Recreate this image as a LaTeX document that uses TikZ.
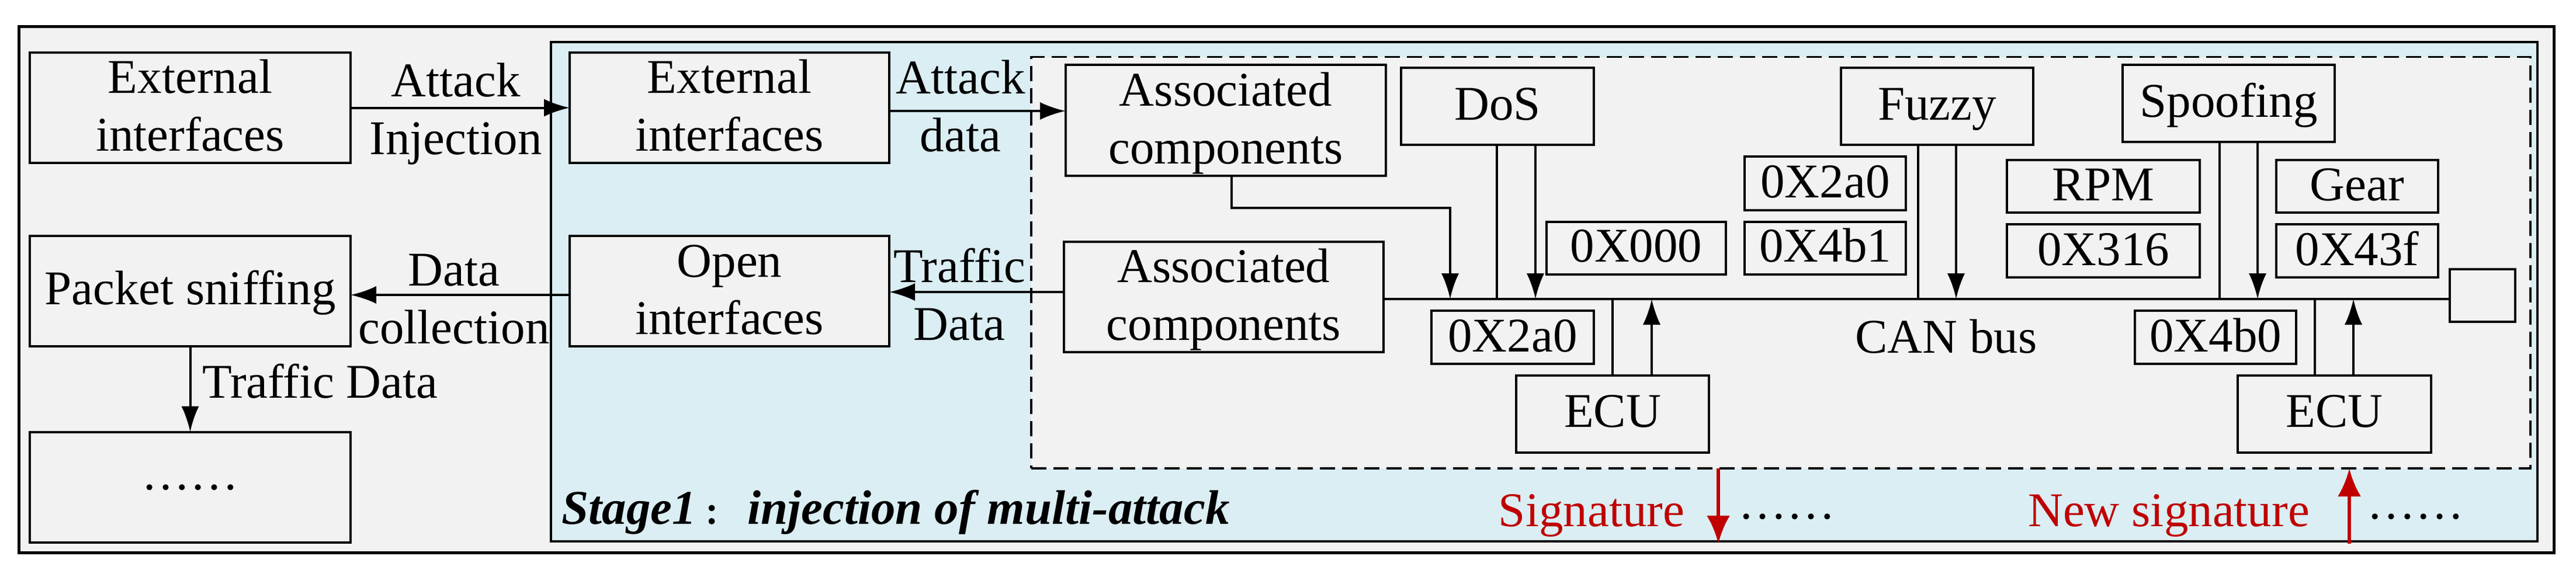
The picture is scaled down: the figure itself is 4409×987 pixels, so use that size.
\documentclass[tikz,border=0pt]{standalone}
\usepackage{fontspec}
\setmainfont{Liberation Serif}
\newfontfamily\cjkcolon[FakeBold=1.5]{Noto Sans CJK SC}
\usetikzlibrary{arrows.meta}
\definecolor{panelgray}{HTML}{F2F2F2}
\definecolor{stageblue}{HTML}{DAEEF3}
\definecolor{sigred}{HTML}{C00000}
\tikzset{
  every node/.style={font=\fontsize{20.75}{24.6}\selectfont, inner sep=0pt, outer sep=0pt, align=center},
  sized/.style 2 args={minimum width={#1*0.25pt}, minimum height={#2*0.25pt}},
  bl/.style={text depth=1pt, text height={1pt+2*(#1)*0.25pt}},
  boxx/.style 2 args={draw=black, fill=panelgray, line width=1pt, sized={#1}{#2}},
  panel/.style 2 args={draw=black, sized={#1}{#2}},
  lbl/.style={anchor=base},
  conn/.style={draw=black, line width=1pt},
  arr/.style={conn, -{Latex[length=11pt,width=7.6pt]}},
  redarr/.style={draw=sigred, line width=1.6pt, -{Latex[length=12pt,width=10pt]}},
}
\begin{document}
\begin{tikzpicture}[x=0.25pt,y=-0.25pt]
\useasboundingbox (0,0) rectangle (4409,987);
% panels
\node[panel={4338.5}{901}, fill=panelgray, line width=1.25pt] (outer) at (2201.75,495.5) {};
\node[panel={3400}{855}, fill=stageblue, line width=1.1pt] (stage) at (2643,499.5) {};
\node[panel={2566}{704.5}, fill=panelgray, line width=0.8pt, dash pattern=on 6.5pt off 3pt] (dash) at (3048,449.75) {};
% left column
\node[boxx={549}{189}, bl=73.5] (extL) at (325.5,184.5) {External\\interfaces};
\node[boxx={549}{189.5}, bl=23] (sniff) at (325.5,498.25) {Packet sniffing};
\node[boxx={549}{189.5}, bl=4] (more) at (325.5,834.25) {……};
% stage column
\node[boxx={547}{189}, bl=73.5] (extM) at (1248.5,184.5) {External\\interfaces};
\node[boxx={547}{189.5}, bl=74.7] (openI) at (1248.5,498.25) {Open\\interfaces};
% associated
\node[boxx={548}{190}, bl=74] (assocA) at (2098,206) {Associated\\components};
\node[boxx={547.4}{189.5}, bl=74] (assocB) at (2094.3,508.25) {Associated\\components};
% attacks
\node[boxx={330}{132}, bl=23] (dos) at (2563,182) {DoS};
\node[boxx={329}{132}, bl=23] (fuzzy) at (3315.5,182) {Fuzzy};
\node[boxx={363}{132}, bl=23] (spoof) at (3814.5,177) {Spoofing};
% id boxes
\node[boxx={307}{90.5}, bl=24] (idzero) at (2800.5,424.75) {0X000};
\node[boxx={278}{91}, bl=24.5] (idlow) at (2589,577.5) {0X2a0};
\node[boxx={276}{92}, bl=24.5] (idup) at (3124,314) {0X2a0};
\node[boxx={276}{90.5}, bl=24] (idfb) at (3124,424.75) {0X4b1};
\node[boxx={330}{90}, bl=24] (rpm) at (3600,319) {RPM};
\node[boxx={330}{91}, bl=24.5] (idrpm) at (3600,429.5) {0X316};
\node[boxx={277}{90}, bl=24] (gear) at (4034.5,319) {Gear};
\node[boxx={277}{91}, bl=24.5] (idgear) at (4034.5,429.5) {0X43f};
\node[boxx={276}{91}, bl=24.5] (idfz) at (3792,577.5) {0X4b0};
% ECUs and terminator
\node[boxx={330}{132.5}, bl=23] (ecuA) at (2760,708.75) {ECU};
\node[boxx={330.6}{132.5}, bl=23] (ecuB) at (3995.3,708.75) {ECU};
\node[boxx={112}{90}] (term) at (4249,506) {};
% bus
\coordinate (busL) at (assocB.east |- 0,512);
\coordinate (busR) at (term.west |- 0,512);
\draw[conn] (busL) -- (busR);
% connectors
\draw[arr] (extL.east) -- (extM.west);
\draw[arr] (extM.east |- 0,190) -- (assocA.west |- 0,190);
\draw[arr] (openI.west |- 0,505) -- (sniff.east |- 0,505);
\draw[arr] (assocB.west |- 0,500) -- (openI.east |- 0,500);
\draw[arr] (sniff.south) -- (more.north);
\draw[arr] (2108,0 |- assocA.south) -- (2108,356) -- (2482,356) -- (2482,0 |- busL);
\draw[conn] (2562,0 |- dos.south) -- (2562,0 |- busL);
\draw[arr] (2628,0 |- dos.south) -- (2628,0 |- busL);
\draw[conn] (2760,0 |- ecuA.north) -- (2760,0 |- busL);
\draw[arr] (2827,0 |- ecuA.north) -- (2827,0 |- busL);
\draw[conn] (3283,0 |- fuzzy.south) -- (3283,0 |- busL);
\draw[arr] (3348,0 |- fuzzy.south) -- (3348,0 |- busL);
\draw[conn] (3799,0 |- spoof.south) -- (3799,0 |- busL);
\draw[arr] (3864,0 |- spoof.south) -- (3864,0 |- busL);
\draw[conn] (3962,0 |- ecuB.north) -- (3962,0 |- busL);
\draw[arr] (4028,0 |- ecuB.north) -- (4028,0 |- busL);
% red
\draw[redarr] (2941,0 |- dash.south) -- (2941,931);
\draw[redarr] (4021,931) -- (4021,0 |- dash.south);
% labels
\node[bl=49.5] (lblAI) at (780,214.5) {Attack\\Injection};
\node[bl=49.5] (lblAD) at (1644,209.5) {Attack\\data};
\node[bl=49.5] (lblTD) at (1642,532.5) {Traffic\\Data};
\node[bl=49.5] (lblDC) at (777,538.5) {Data\\collection};
\node[lbl] (lblTL) at (548,681) {Traffic Data};
\node[lbl] (lblCAN) at (3331,604) {CAN bus};
\node[lbl, font=\fontsize{20.75}{24.6}\selectfont\bfseries\itshape] (lblStage) at (1533,897) {Stage1\makebox[21.75pt][l]{\hspace{3.5pt}\fontsize{12}{12}\cjkcolon ：}injection of multi-attack};
\node[lbl, text=sigred] (lblSig) at (2724,901) {Signature};
\node[lbl, text=sigred] (lblNew) at (3712,901) {New signature};
\node[lbl] (dotsA) at (3058,888) {……};
\node[lbl] (dotsB) at (4134,888) {……};
\end{tikzpicture}
\end{document}
